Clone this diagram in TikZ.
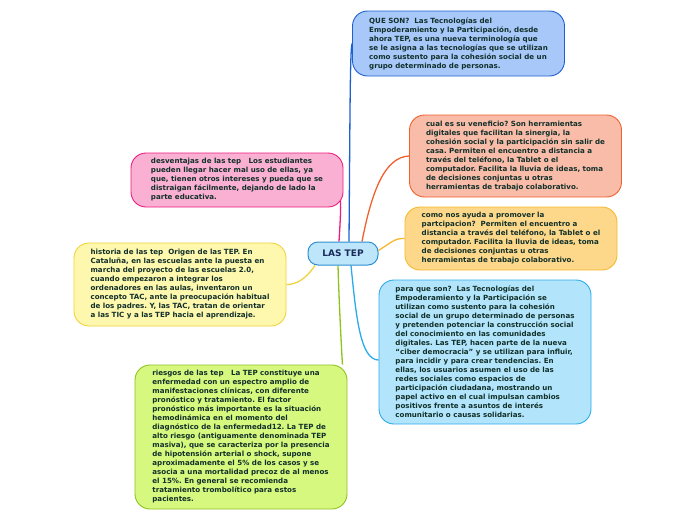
\documentclass[tikz,border=0pt]{standalone}
\usepackage{fontspec}
\setmainfont{DejaVu Sans}
\usetikzlibrary{backgrounds}
\frenchspacing
\definecolor{txt}{HTML}{12302A}
\definecolor{bAf}{HTML}{A8C8FA}\definecolor{bAd}{HTML}{1E60D2}
\definecolor{bBf}{HTML}{F8BCA8}\definecolor{bBd}{HTML}{F2602E}
\definecolor{bCf}{HTML}{FDD88A}\definecolor{bCd}{HTML}{F6B82E}
\definecolor{bDf}{HTML}{B2E5FB}\definecolor{bDd}{HTML}{2BAAEB}
\definecolor{bEf}{HTML}{F9B0D2}\definecolor{bEd}{HTML}{EC1C7C}
\definecolor{bFf}{HTML}{FEF7AE}\definecolor{bFd}{HTML}{EED33A}
\definecolor{bGf}{HTML}{D6F87F}\definecolor{bGd}{HTML}{8DC21F}
\definecolor{cf}{HTML}{BEE6FA}\definecolor{cd}{HTML}{2D8FD0}
\definecolor{ctxt}{HTML}{1A2A5A}
\tikzset{
  topic/.style={draw, line width=0.9pt, rounded corners=15pt, align=left,
    text=txt, font=\fontsize{7.1}{9}\selectfont\bfseries\frenchspacing,
    minimum width=212pt, inner sep=0pt},
  central/.style={draw=cd, fill=cf, line width=1pt, rounded corners=10pt,
    text=ctxt, font=\fontsize{9}{10}\selectfont\bfseries,
    minimum width=70pt, minimum height=23pt, inner sep=0pt},
  link/.style={line width=1.3pt}
}
\begin{document}
\begin{tikzpicture}[x=1pt,y=-1pt]
\useasboundingbox (0,0) rectangle (696,520);
\node[central] (tep) at (343,253.5) {LAS TEP};
\node[topic, draw=bAd, fill=bAf, minimum height=65pt] (b1) at (458.5,43.5) {QUE SON?\ \ Las Tecnologías del\\Empoderamiento y la Participación, desde\\ahora TEP, es una nueva terminología que\\se le asigna a las tecnologías que se utilizan\\como sustento para la cohesión social de un\\grupo determinado de personas.};
\node[topic, draw=bBd, fill=bBf, minimum height=82pt] (b2) at (515.5,156) {cual es su veneficio? Son herramientas\\digitales que facilitan la sinergia, la\\cohesión social y la participación sin salir de\\casa. Permiten el encuentro a distancia a\\través del teléfono, la Tablet o el\\computador. Facilita la lluvia de ideas, toma\\de decisiones conjuntas u otras\\herramientas de trabajo colaborativo.};
\node[topic, draw=bCd, fill=bCf, minimum height=63pt] (b3) at (511,238.5) {como nos ayuda a promover la\\partcipacion?\ \ Permiten el encuentro a\\distancia a través del teléfono, la Tablet o el\\computador. Facilita la lluvia de ideas, toma\\de decisiones conjuntas u otras\\herramientas de trabajo colaborativo.};
\node[topic, draw=bDd, fill=bDf, minimum height=144pt] (b4) at (485,352) {para que son?\ \ Las Tecnologías del\\Empoderamiento y la Participación se\\utilizan como sustento para la cohesión\\social de un grupo determinado de personas\\y pretenden potenciar la construcción social\\del conocimiento en las comunidades\\digitales. Las TEP, hacen parte de la nueva\\“ciber democracia” y se utilizan para influir,\\para incidir y para crear tendencias. En\\ellas, los usuarios asumen el uso de las\\redes sociales como espacios de\\participación ciudadana, mostrando un\\papel activo en el cual impulsan cambios\\positivos frente a asuntos de interés\\comunitario o causas solidarias.};
\node[topic, draw=bEd, fill=bEf, minimum height=54pt] (b5) at (237,180) {desventajas de las tep\ \ \ Los estudiantes\\pueden llegar hacer mal uso de ellas, ya\\que, tienen otros intereses y pueda que se\\distraigan fácilmente, dejando de lado la\\parte educativa.};
\node[topic, draw=bFd, fill=bFf, minimum height=83pt] (b6) at (180,284.5) {historia de las tep\ \ Origen de las TEP. En\\Cataluña, en las escuelas ante la puesta en\\marcha del proyecto de las escuelas 2.0,\\cuando empezaron a integrar los\\ordenadores en las aulas, inventaron un\\concepto TAC, ante la preocupación habitual\\de los padres. Y, las TAC, tratan de orientar\\a las TIC y a las TEP hacia el aprendizaje.};
\node[topic, draw=bGd, fill=bGf, minimum height=144pt] (b7) at (241,437) {riesgos de las tep\ \ \ La TEP constituye una\\enfermedad con un espectro amplio de\\manifestaciones clínicas, con diferente\\pronóstico y tratamiento. El factor\\pronóstico más importante es la situación\\hemodinámica en el momento del\\diagnóstico de la enfermedad12. La TEP de\\alto riesgo (antiguamente denominada TEP\\masiva), que se caracteriza por la presencia\\de hipotensión arterial o shock, supone\\aproximadamente el 5\% de los casos y se\\asocia a una mortalidad precoz de al menos\\el 15\%. En general se recomienda\\tratamiento trombolítico para estos\\pacientes.};
\begin{scope}[on background layer]
\draw[link, bAd] ([xshift=6pt]tep.north) .. controls (350,120) and (350,50) .. (b1.west);
\draw[link, bBd] ([xshift=19pt]tep.north) .. controls (372,190) and (385,157) .. (b2.west);
\draw[link, bCd] ([yshift=3pt]tep.east) .. controls (392,242) and (395,238) .. (b3.west);
\draw[link, bDd] ([xshift=8pt]tep.south) .. controls (356,315) and (360,360) .. ([yshift=-8pt]b4.west);
\draw[link, bEd] ([xshift=-4pt]tep.north) .. controls (340,225) and (341,210) .. ([xshift=-3pt,yshift=8pt]b5.south east);
\draw[link, bFd] ([xshift=-28pt]tep.south) .. controls (305,280) and (296,284.5) .. (b6.east);
\draw[link, bGd] ([xshift=-5pt]tep.south) .. controls (339,300) and (341,340) .. ([xshift=-5pt]b7.north east);
\end{scope}
\end{tikzpicture}
\end{document}
